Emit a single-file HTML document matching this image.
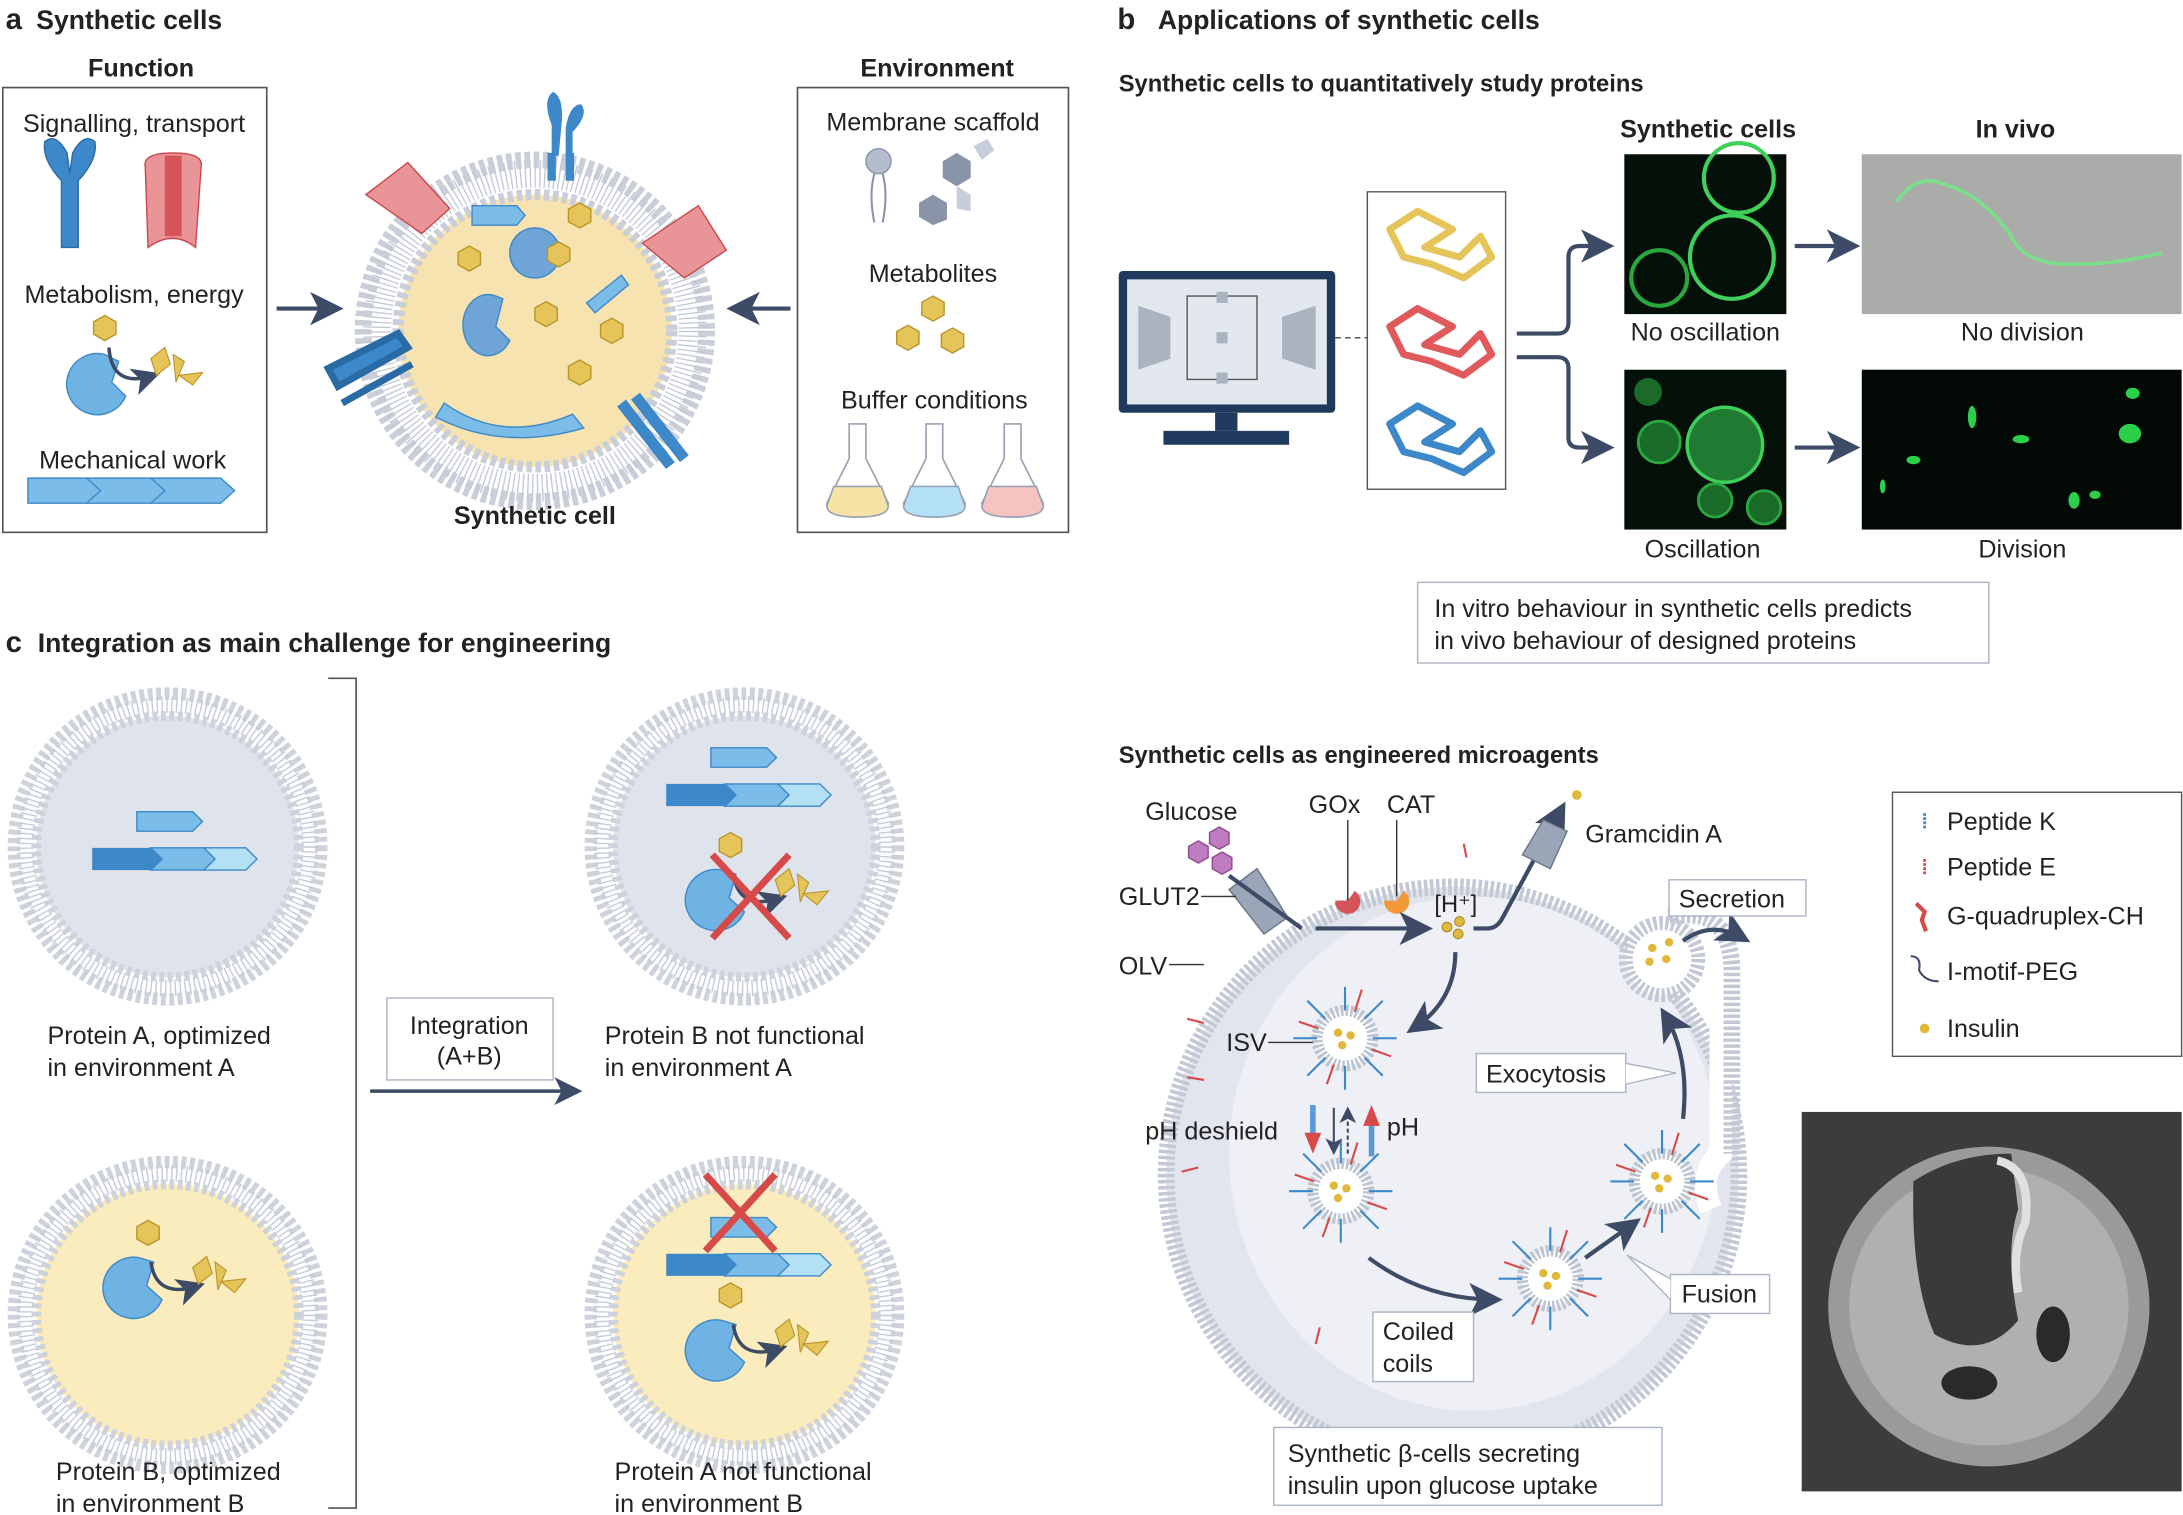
<!DOCTYPE html>
<html><head><meta charset="utf-8"><style>
html,body{margin:0;padding:0;background:#fff;}
svg{display:block}
text{font-family:"Liberation Sans",sans-serif;fill:#222;}
.b{font-weight:bold;}
</style></head><body>
<svg width="2183" height="1515" viewBox="0 0 1563 1090" preserveAspectRatio="none" xmlns="http://www.w3.org/2000/svg">
<defs>
<marker id="ah" markerWidth="8" markerHeight="8" refX="6" refY="4" orient="auto"><path d="M0,0 L8,4 L0,8 L2,4z" fill="#3d4b66"/></marker>
<g id="hex"><polygon points="0,-9 8,-4.5 8,4.5 0,9 -8,4.5 -8,-4.5" fill="#e5c45a" stroke="#b8952a" stroke-width="1"/></g>
</defs>

<!-- PANEL A -->
<text x="4" y="21" font-size="21" class="b">a</text><text x="26" y="21" font-size="19" class="b">Synthetic cells</text>
<text x="101" y="55" font-size="18" class="b" text-anchor="middle">Function</text>
<rect x="2" y="63" width="189" height="320" fill="none" stroke="#555" stroke-width="1.2"/>
<text x="96" y="95" font-size="18" text-anchor="middle">Signalling, transport</text>
<path d="M44,178 L44,130 Q30,115 32,102 Q40,95 48,110 L50,125 L52,110 Q60,95 68,102 Q70,115 56,130 L56,178z" fill="#3d88c8" stroke="#2a6aa5"/>
<path d="M106,178 L104,120 Q102,110 124,110 Q146,110 144,120 L140,178 Q124,165 106,178z" fill="#e99497" stroke="#c9474c"/>
<path d="M118,112 L118,170 L130,170 L130,112z" fill="#d65458"/>
<text x="96" y="218" font-size="18" text-anchor="middle">Metabolism, energy</text>
<use href="#hex" x="75" y="236"/>
<path d="M75,255 A22,22 0 1 0 90,285 L80,275 L85,260z" fill="#6eb3e4" stroke="#3d88c8"/>
<path d="M78,250 Q80,280 110,270" fill="none" stroke="#3d4b66" stroke-width="2.5" marker-end="url(#ah)"/>
<path d="M108,258 L118,250 L122,262 L112,270z M124,255 L132,260 L126,275z M128,270 L145,268 L138,277z" fill="#e5c45a" stroke="#b8952a" stroke-width=".8"/>
<text x="95" y="337" font-size="18" text-anchor="middle">Mechanical work</text>
<path d="M20,344 L62,344 L72,353 L62,362 L20,362z M62,344 L108,344 L118,353 L108,362 L62,362 L72,353z M108,344 L158,344 L168,353 L158,362 L108,362 L118,353z" fill="#7bbde8" stroke="#3d88c8"/>

<text x="671" y="55" font-size="18" class="b" text-anchor="middle">Environment</text>
<rect x="571" y="63" width="194" height="320" fill="none" stroke="#555" stroke-width="1.2"/>
<text x="668" y="94" font-size="18" text-anchor="middle">Membrane scaffold</text>
<circle cx="629" cy="116" r="9" fill="#b5bccb" stroke="#8a94a8"/>
<path d="M626,125 Q622,140 626,160 M632,125 Q636,140 632,160" fill="none" stroke="#8a94a8" stroke-width="1.5"/>
<polygon points="697,105 707,100 712,108 703,115" fill="#c8ced9"/>
<polygon points="685,110 695,116 695,128 685,134 675,128 675,116" fill="#8a94a8"/>
<polygon points="685,134 695,140 695,152 685,150" fill="#c8ced9"/>
<polygon points="668,140 678,146 678,158 668,162 658,156 658,146" fill="#8a94a8"/>
<text x="668" y="203" font-size="18" text-anchor="middle">Metabolites</text>
<use href="#hex" x="668" y="222"/><use href="#hex" x="650" y="243"/><use href="#hex" x="682" y="245"/>
<text x="669" y="294" font-size="18" text-anchor="middle">Buffer conditions</text>
<g stroke="#9aa3b3" stroke-width="1.2">
<path d="M608,305 L608,330 L592,362 Q592,372 614,372 Q636,372 636,362 L620,330 L620,305z" fill="#fff"/>
<path d="M597,350 L631,350 L636,364 Q636,372 614,372 Q592,372 592,364z" fill="#f8e3a6"/>
<path d="M663,305 L663,330 L647,362 Q647,372 669,372 Q691,372 691,362 L675,330 L675,305z" fill="#fff"/>
<path d="M652,350 L686,350 L691,364 Q691,372 669,372 Q647,372 647,364z" fill="#b3e0f5"/>
<path d="M719,305 L719,330 L703,362 Q703,372 725,372 Q747,372 747,362 L731,330 L731,305z" fill="#fff"/>
<path d="M708,350 L742,350 L747,364 Q747,372 725,372 Q703,372 703,364z" fill="#f6c2c2"/>
</g>

<line x1="198" y1="222" x2="240" y2="222" stroke="#3d4b66" stroke-width="3" marker-end="url(#ah)"/>
<line x1="566" y1="222" x2="526" y2="222" stroke="#3d4b66" stroke-width="3" marker-end="url(#ah)"/>

<!-- central cell -->
<circle cx="383" cy="238" r="123" fill="#fff" stroke="#c9ced8" stroke-width="12" stroke-dasharray="4 2.5"/>
<circle cx="383" cy="238" r="113" fill="none" stroke="#c4cad5" stroke-width="20" stroke-dasharray="1 2.5"/>
<circle cx="383" cy="238" r="98" fill="#f6e3b0" stroke="#c9ced8" stroke-width="8" stroke-dasharray="4 2.5"/>
<path d="M395,112 L395,90 Q388,72 396,66 Q404,70 402,90 L400,112z M405,112 L405,92 Q408,75 416,75 Q422,82 410,95 L410,112z" fill="#3d88c8"/>
<path d="M395,110 L395,130 M408,110 L408,130" stroke="#3d88c8" stroke-width="6"/>
<path d="M262,140 L292,117 L322,150 L302,168z" fill="#e99497" stroke="#c9474c"/>
<path d="M460,175 L500,148 L520,180 L490,200z" fill="#e99497" stroke="#c9474c"/>
<path d="M235,265 L285,240 L292,250 L242,278z M245,290 L295,262" fill="#3d88c8" stroke="#2a6aa5" stroke-width="5"/>
<path d="M445,290 L480,335 M455,285 L490,330" stroke="#3d88c8" stroke-width="8"/>
<path d="M338,148 L370,148 L376,155 L370,162 L338,162z" fill="#7bbde8" stroke="#3d88c8"/>
<circle cx="383" cy="182" r="18" fill="#6ea4d6" stroke="#3d88c8"/>
<path d="M355,213 A18,22 0 1 0 365,245 L355,235 L360,215z" fill="#6ea4d6" stroke="#3d88c8"/>
<path d="M420,218 L445,198 L450,205 L426,225z" fill="#7bbde8" stroke="#3d88c8"/>
<path d="M318,290 Q360,320 410,298 L418,308 Q360,325 312,300z" fill="#7bbde8" stroke="#3d88c8"/>
<use href="#hex" x="415" y="155"/><use href="#hex" x="336" y="186"/><use href="#hex" x="400" y="183"/><use href="#hex" x="391" y="226"/><use href="#hex" x="438" y="238"/><use href="#hex" x="415" y="268"/>
<text x="383" y="377" font-size="18" class="b" text-anchor="middle">Synthetic cell</text>

<!-- PANEL B -->
<text x="800" y="21" font-size="21" class="b">b</text><text x="829" y="21" font-size="19" class="b">Applications of synthetic cells</text>
<text x="801" y="66" font-size="17" class="b">Synthetic cells to quantitatively study proteins</text>
<text x="1223" y="99" font-size="18" class="b" text-anchor="middle">Synthetic cells</text>
<text x="1443" y="99" font-size="18" class="b" text-anchor="middle">In vivo</text>
<rect x="801" y="195" width="155" height="102" fill="#1f3a5c" rx="3"/>
<rect x="807" y="201" width="143" height="90" fill="#e3e7ee"/>
<path d="M815,220 L838,228 L838,258 L815,266z M942,220 L918,228 L918,258 L942,266z" fill="#aab3c0"/>
<rect x="850" y="213" width="50" height="60" fill="none" stroke="#555" stroke-width="1"/>
<rect x="871" y="210" width="8" height="8" fill="#aab3c0"/><rect x="871" y="239" width="8" height="8" fill="#aab3c0"/><rect x="871" y="268" width="8" height="8" fill="#aab3c0"/>
<rect x="870" y="297" width="16" height="13" fill="#1f3a5c"/><rect x="833" y="310" width="90" height="10" fill="#1f3a5c"/>
<line x1="956" y1="243" x2="979" y2="243" stroke="#555" stroke-dasharray="4 3"/>
<rect x="979" y="138" width="99" height="214" fill="#fff" stroke="#555"/>
<g fill="none" stroke-width="5" stroke-linejoin="round">
<path d="M995,165 L1015,152 L1040,165 L1020,178 L1045,185 L1060,170 L1068,185 L1048,200 L1025,190 L1005,185z" stroke="#e5c45a"/>
<path d="M995,235 L1015,222 L1040,235 L1020,248 L1045,255 L1060,240 L1068,255 L1048,270 L1025,260 L1005,255z" stroke="#e05a5c"/>
<path d="M995,305 L1015,292 L1040,305 L1020,318 L1045,325 L1060,310 L1068,325 L1048,340 L1025,330 L1005,325z" stroke="#3d88c8"/>
</g>
<path d="M1086,240 L1115,240 Q1123,240 1123,232 L1123,185 Q1123,177 1131,177 L1150,177" fill="none" stroke="#3d4b66" stroke-width="3" marker-end="url(#ah)"/>
<path d="M1086,257 L1115,257 Q1123,257 1123,265 L1123,315 Q1123,322 1131,322 L1150,322" fill="none" stroke="#3d4b66" stroke-width="3" marker-end="url(#ah)"/>
<rect x="1163" y="111" width="116" height="115" fill="#041008"/>
<circle cx="1240" cy="185" r="30" fill="none" stroke="#3fcf5a" stroke-width="3"/>
<circle cx="1245" cy="128" r="25" fill="none" stroke="#3fcf5a" stroke-width="3"/>
<circle cx="1188" cy="200" r="20" fill="none" stroke="#2aa840" stroke-width="3"/>
<rect x="1333" y="111" width="229" height="115" fill="#a9aca9"/>
<path d="M1358,145 Q1372,125 1390,132 Q1420,140 1440,170 Q1450,192 1490,190 Q1515,190 1548,182" fill="none" stroke="#7be08a" stroke-width="2.5"/>
<text x="1221" y="245" font-size="18" text-anchor="middle">No oscillation</text>
<text x="1448" y="245" font-size="18" text-anchor="middle">No division</text>
<line x1="1285" y1="177" x2="1326" y2="177" stroke="#3d4b66" stroke-width="3" marker-end="url(#ah)"/>
<line x1="1285" y1="322" x2="1326" y2="322" stroke="#3d4b66" stroke-width="3" marker-end="url(#ah)"/>
<rect x="1163" y="266" width="116" height="115" fill="#041008"/>
<circle cx="1235" cy="320" r="27" fill="#1f7a32" stroke="#3fcf5a" stroke-width="2.5"/>
<circle cx="1188" cy="318" r="15" fill="#1a6a2a" stroke="#2aa840" stroke-width="2"/>
<circle cx="1228" cy="360" r="12" fill="#1a6a2a" stroke="#2aa840" stroke-width="2"/>
<circle cx="1263" cy="365" r="12" fill="#1a6a2a" stroke="#2aa840" stroke-width="2"/>
<circle cx="1180" cy="282" r="10" fill="#1a6a2a"/>
<rect x="1333" y="266" width="229" height="115" fill="#030a06"/>
<g fill="#2ccf4a"><ellipse cx="1412" cy="300" rx="3" ry="8"/><ellipse cx="1447" cy="316" rx="6" ry="3"/><ellipse cx="1525" cy="312" rx="8" ry="7"/><ellipse cx="1527" cy="283" rx="5" ry="4"/><ellipse cx="1370" cy="331" rx="5" ry="3"/><ellipse cx="1485" cy="360" rx="4" ry="6"/><ellipse cx="1500" cy="356" rx="4" ry="3"/><ellipse cx="1348" cy="350" rx="2" ry="5"/></g>
<text x="1219" y="401" font-size="18" text-anchor="middle">Oscillation</text>
<text x="1448" y="401" font-size="18" text-anchor="middle">Division</text>
<rect x="1015" y="419" width="409" height="58" fill="#fff" stroke="#aab3c4"/>
<text x="1027" y="444" font-size="18">In vitro behaviour in synthetic cells predicts</text>
<text x="1027" y="467" font-size="18">in vivo behaviour of designed proteins</text>

<!-- PANEL C -->
<text x="4" y="469" font-size="21" class="b">c</text><text x="27" y="469" font-size="19" class="b">Integration as main challenge for engineering</text>
<g id="cellA">
<circle cx="120" cy="609" r="110" fill="#fff" stroke="#cdd2db" stroke-width="9" stroke-dasharray="3.5 2.5"/>
<circle cx="120" cy="609" r="102" fill="none" stroke="#c6ccd6" stroke-width="12" stroke-dasharray="1 2.5"/>
<circle cx="120" cy="609" r="94" fill="#dfe3ec" stroke="#cdd2db" stroke-width="7" stroke-dasharray="3.5 2.5"/>
</g>
<use href="#cellA" x="413" y="0"/>
<circle cx="120" cy="946" r="110" fill="#fff" stroke="#cdd2db" stroke-width="9" stroke-dasharray="3.5 2.5"/>
<circle cx="120" cy="946" r="102" fill="none" stroke="#c6ccd6" stroke-width="12" stroke-dasharray="1 2.5"/>
<circle cx="120" cy="946" r="94" fill="#fbecbe" stroke="#cdd2db" stroke-width="7" stroke-dasharray="3.5 2.5"/>
<circle cx="533" cy="946" r="110" fill="#fff" stroke="#cdd2db" stroke-width="9" stroke-dasharray="3.5 2.5"/>
<circle cx="533" cy="946" r="102" fill="none" stroke="#c6ccd6" stroke-width="12" stroke-dasharray="1 2.5"/>
<circle cx="533" cy="946" r="94" fill="#fbecbe" stroke="#cdd2db" stroke-width="7" stroke-dasharray="3.5 2.5"/>
<g id="arrows"><path d="M98,584 L138,584 L145,591 L138,598 L98,598z" fill="#7bbde8" stroke="#3d88c8"/>
<path d="M66,610 L108,610 L116,618 L108,626 L66,626z" fill="#3d88c8"/><path d="M108,610 L146,610 L154,618 L146,626 L108,626 L116,618z" fill="#7bbde8" stroke="#3d88c8"/><path d="M146,610 L176,610 L184,618 L176,626 L146,626 L154,618z" fill="#b3e0f5" stroke="#3d88c8"/></g>
<use href="#arrows" x="411" y="-46"/><use href="#arrows" x="411" y="292"/>
<g id="enz"><use href="#hex" x="106" y="887"/>
<path d="M100,905 A22,22 0 1 0 116,935 L105,925 L110,908z" fill="#6eb3e4" stroke="#3d88c8"/>
<path d="M108,908 Q112,935 142,925" fill="none" stroke="#3d4b66" stroke-width="2.5" marker-end="url(#ah)"/>
<path d="M138,912 L148,904 L152,916 L142,924z M154,908 L162,914 L156,928z M158,922 L176,920 L168,930z" fill="#e5c45a" stroke="#b8952a" stroke-width=".8"/></g>
<use href="#enz" x="417" y="-279"/><use href="#enz" x="417" y="45"/>
<path d="M510,615 L565,675 M565,615 L510,675" stroke="#d64a4a" stroke-width="5"/>
<path d="M505,845 L555,900 M555,845 L505,900" stroke="#d64a4a" stroke-width="5"/>
<text x="34" y="751" font-size="18">Protein A, optimized</text><text x="34" y="774" font-size="18">in environment A</text>
<text x="433" y="751" font-size="18">Protein B not functional</text><text x="433" y="774" font-size="18">in environment A</text>
<text x="40" y="1065" font-size="18">Protein B, optimized</text><text x="40" y="1088" font-size="18">in environment B</text>
<text x="440" y="1065" font-size="18">Protein A not functional</text><text x="440" y="1088" font-size="18">in environment B</text>
<path d="M235,488 L255,488 L255,1085 L235,1085" fill="none" stroke="#555" stroke-width="1.2"/>
<rect x="277" y="718" width="119" height="59" fill="#fff" stroke="#aab3c4"/>
<text x="336" y="744" font-size="18" text-anchor="middle">Integration</text><text x="336" y="766" font-size="18" text-anchor="middle">(A+B)</text>
<line x1="265" y1="785" x2="412" y2="785" stroke="#3d4b66" stroke-width="2.5" marker-end="url(#ah)"/>

<!-- microagents -->
<text x="801" y="549" font-size="17" class="b">Synthetic cells as engineered microagents</text>
<ellipse cx="1040" cy="845" rx="205" ry="207" fill="#e2e5ed"/>
<ellipse cx="1040" cy="845" rx="205" ry="207" fill="none" stroke="#c2c9d4" stroke-width="12" stroke-dasharray="2.5 1.8"/>
<ellipse cx="1055" cy="830" rx="175" ry="185" fill="#eef0f5"/>
<!-- notch for secretion/fusion -->
<path d="M1200,690 Q1225,680 1232,700 L1232,830 Q1215,845 1225,870" fill="none" stroke="#fff" stroke-width="16"/>
<path d="M1195,660 Q1240,650 1240,700 L1240,830" fill="none" stroke="#c2c9d4" stroke-width="12" stroke-dasharray="2.5 1.8"/>
<circle cx="1190" cy="690" r="26" fill="#fff" stroke="#c2c9d4" stroke-width="10" stroke-dasharray="2.5 1.8"/>
<text x="820" y="590" font-size="18">Glucose</text>
<g fill="#c07cc0" stroke="#8e4a8e"><polygon points="873,595 880,599 880,607 873,611 866,607 866,599"/><polygon points="858,605 865,609 865,617 858,621 851,617 851,609"/><polygon points="875,613 882,617 882,625 875,629 868,625 868,617"/></g>
<path d="M880,640 L900,625 L922,660 L905,672z" fill="#9aa5b8" stroke="#6a7588"/>
<line x1="880" y1="630" x2="932" y2="668" stroke="#3d4b66" stroke-width="3"/>
<text x="801" y="651" font-size="18">GLUT2</text><line x1="860" y1="645" x2="885" y2="645" stroke="#333"/>
<text x="801" y="701" font-size="18">OLV</text><line x1="837" y1="694" x2="862" y2="694" stroke="#333"/>
<text x="937" y="585" font-size="18">GOx</text><text x="993" y="585" font-size="18">CAT</text>
<line x1="965" y1="590" x2="965" y2="648" stroke="#333"/><line x1="1000" y1="590" x2="1000" y2="645" stroke="#333"/>
<path d="M965,648 m-9,0 a9,9 0 1 0 14,-7 l-5,7z" fill="#d65458"/>
<path d="M1000,648 m-9,0 a9,9 0 1 0 14,-7 l-5,7z" fill="#f29a3a"/>
<line x1="942" y1="668" x2="1020" y2="668" stroke="#3d4b66" stroke-width="3" marker-end="url(#ah)"/>
<text x="1027" y="656" font-size="17">[H⁺]</text>
<g fill="#e0b83a" stroke="#a5862a" stroke-width=".7"><circle cx="1036" cy="667" r="3.5"/><circle cx="1045" cy="663" r="3.5"/><circle cx="1044" cy="672" r="3.5"/></g>
<path d="M1055,668 L1065,668 Q1072,668 1076,660 L1118,582" fill="none" stroke="#3d4b66" stroke-width="3" marker-end="url(#ah)"/>
<path d="M1090,615 L1105,590 L1122,598 L1110,625z" fill="#9aa5b8" stroke="#6a7588"/>
<circle cx="1129" cy="572" r="3.5" fill="#e0b83a"/>
<text x="1135" y="606" font-size="18">Gramcidin A</text>
<path d="M1042,685 Q1042,720 1012,740" fill="none" stroke="#3d4b66" stroke-width="3" marker-end="url(#ah)"/>
<g id="ves"><circle cx="963" cy="747" r="20" fill="#fff" stroke="#bcc4d0" stroke-width="8" stroke-dasharray="2 1.5"/>
<g stroke-width="1.5"><path d="M963,727 L963,710 M983,747 L1000,747 M963,767 L963,784 M943,747 L926,747 M977,733 L990,720 M949,733 L936,720 M977,761 L990,774 M949,761 L936,774" stroke="#3d88c8"/><path d="M970,728 L975,712 M982,755 L996,760 M955,766 L950,780 M944,740 L930,735" stroke="#d64a4a"/></g>
<g fill="#e0b83a"><circle cx="958" cy="743" r="3"/><circle cx="967" cy="745" r="3"/><circle cx="961" cy="752" r="3"/></g></g>
<text x="878" y="756" font-size="18">ISV</text><line x1="908" y1="750" x2="940" y2="750" stroke="#333"/>
<use href="#ves" x="-3" y="110"/><use href="#ves" x="147" y="173"/><use href="#ves" x="227" y="103"/>
<text x="820" y="820" font-size="18">pH deshield</text><text x="993" y="817" font-size="18">pH</text>
<path d="M940,795 L940,818" stroke="#5a9ad6" stroke-width="4"/><path d="M934,815 L946,815 L940,830z" fill="#d64a4a"/>
<line x1="955" y1="797" x2="955" y2="828" stroke="#3d4b66" stroke-width="1.5" marker-end="url(#ah)"/>
<line x1="965" y1="830" x2="965" y2="799" stroke="#3d4b66" stroke-width="1.5" stroke-dasharray="3 2" marker-end="url(#ah)"/>
<path d="M982,832 L982,808" stroke="#5a9ad6" stroke-width="4"/><path d="M976,810 L988,810 L982,795z" fill="#d64a4a"/>
<path d="M980,905 Q1020,935 1070,935" fill="none" stroke="#3d4b66" stroke-width="3" marker-end="url(#ah)"/>
<path d="M1135,905 L1170,880" fill="none" stroke="#3d4b66" stroke-width="3" marker-end="url(#ah)"/>
<path d="M1205,805 Q1210,760 1192,730" fill="none" stroke="#3d4b66" stroke-width="3" marker-end="url(#ah)"/>
<path d="M1205,677 Q1225,662 1248,675" fill="none" stroke="#3d4b66" stroke-width="3" marker-end="url(#ah)"/>
<g fill="#e0b83a"><circle cx="1183" cy="682" r="3"/><circle cx="1195" cy="678" r="3"/><circle cx="1181" cy="692" r="3"/><circle cx="1193" cy="690" r="3"/></g>
<rect x="1195" y="633" width="98" height="26" fill="#fff" stroke="#aab3c4"/><text x="1202" y="653" font-size="18">Secretion</text>
<rect x="1057" y="758" width="107" height="28" fill="#fff" stroke="#aab3c4"/><text x="1064" y="779" font-size="18">Exocytosis</text>
<path d="M1164,765 L1200,772 L1164,780" fill="#fff" stroke="#aab3c4"/>
<rect x="1196" y="917" width="71" height="28" fill="#fff" stroke="#aab3c4"/><text x="1204" y="937" font-size="18">Fusion</text>
<path d="M1196,920 L1165,903 L1196,935" fill="#fff" stroke="#aab3c4"/>
<rect x="983" y="944" width="72" height="50" fill="#fff" stroke="#aab3c4"/><text x="990" y="964" font-size="18">Coiled</text><text x="990" y="987" font-size="18">coils</text>
<g stroke="#d64a4a" stroke-width="1.5"><path d="M1048,607 l2,10"/><path d="M850,733 l12,3"/><path d="M850,775 l12,2"/><path d="M846,843 l12,-3"/><path d="M945,955 l-3,12"/></g>
<rect x="912" y="1027" width="278" height="56" fill="#fff" stroke="#aab3c4"/>
<text x="922" y="1052" font-size="18">Synthetic β-cells secreting</text><text x="922" y="1075" font-size="18">insulin upon glucose uptake</text>
<rect x="1355" y="570" width="207" height="190" fill="#fff" stroke="#555"/>
<path d="M1378,585 l0,12" stroke="#3d88c8" stroke-width="2" stroke-dasharray="2 1"/><text x="1394" y="597" font-size="18">Peptide K</text>
<path d="M1378,618 l0,12" stroke="#d64a4a" stroke-width="2" stroke-dasharray="2 1"/><text x="1394" y="630" font-size="18">Peptide E</text>
<path d="M1372,650 l6,6 l-2,6 l3,8" stroke="#d64a4a" stroke-width="3" fill="none"/><text x="1394" y="665" font-size="18">G-quadruplex-CH</text>
<path d="M1368,688 q8,0 6,10 q4,8 14,8" stroke="#3d4b66" stroke-width="1.5" fill="none"/><text x="1394" y="705" font-size="18">I-motif-PEG</text>
<circle cx="1378" cy="740" r="3.5" fill="#e0b83a"/><text x="1394" y="746" font-size="18">Insulin</text>
<!-- SEM -->
<rect x="1290" y="800" width="272" height="273" fill="#3c3c3c"/>
<circle cx="1424" cy="940" r="115" fill="#9a9a9a"/>
<circle cx="1424" cy="940" r="100" fill="#b0b0b0"/>
<path d="M1370,850 Q1400,830 1440,830 L1445,870 Q1435,900 1445,950 Q1420,980 1385,960 Q1368,920 1370,850z" fill="#3a3a3a"/>
<path d="M1430,835 Q1455,840 1450,880 Q1440,900 1445,930" fill="none" stroke="#e0e0e0" stroke-width="6"/>
<ellipse cx="1410" cy="995" rx="20" ry="12" fill="#2a2a2a"/><ellipse cx="1470" cy="960" rx="12" ry="20" fill="#2a2a2a"/>
</svg>
</body></html>
